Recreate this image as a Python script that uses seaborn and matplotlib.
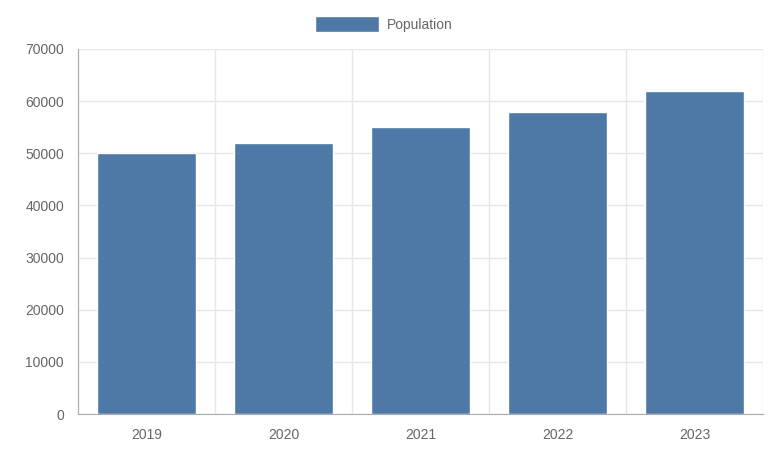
import matplotlib
matplotlib.use("Agg")
import matplotlib.pyplot as plt
import seaborn as sns
import pandas as pd
from matplotlib.patches import Patch

years = ["2019", "2020", "2021", "2022", "2023"]
population = [50000, 52000, 55000, 58000, 62000]

sns.set_style("white")
plt.rcParams['font.family'] = ['Liberation Sans', 'DejaVu Sans']

df = pd.DataFrame({"year": years, "population": population})
fig = plt.figure(figsize=(7.68, 4.61), dpi=100)
ax = fig.add_axes([78/768, 1-414/461, (763-78)/768, (414-49)/461])
color = "#4e79a7"
sns.barplot(data=df, x="year", y="population", color=color, width=0.72,
            saturation=1, ax=ax, zorder=3)
ax.set_xlim(-0.5, 4.5)
ax.set_ylim(0, 70000)
ax.set_yticks(range(0, 70001, 10000))
ax.set_xlabel("")
ax.set_ylabel("")
ax.set_xticks([i - 0.5 for i in range(6)], minor=True)
ax.grid(True, axis="y", color="#e6e6e6", lw=1, zorder=0)
ax.grid(True, axis="x", which="minor", color="#e6e6e6", lw=1, zorder=0)
ax.tick_params(axis="x", which="major", length=0, pad=10, labelsize=10, labelcolor="#666666")
ax.tick_params(axis="x", which="minor", length=8, color="#cccccc", width=1)
ax.tick_params(axis="y", length=6, color="#e6e6e6", labelsize=10, labelcolor="#666666", pad=4)
for s in ["top", "right"]:
    ax.spines[s].set_visible(False)
for s in ["left", "bottom"]:
    ax.spines[s].set_color("#aaaaaa")
fig.legend(handles=[Patch(facecolor=color, label="Population")], loc="center",
           bbox_to_anchor=(384/768, 1-24/461), frameon=False, fontsize=10,
           handlelength=4.6, handleheight=1.3, labelcolor="#666666", handletextpad=0.6)
fig.savefig("out.png", dpi=100)
